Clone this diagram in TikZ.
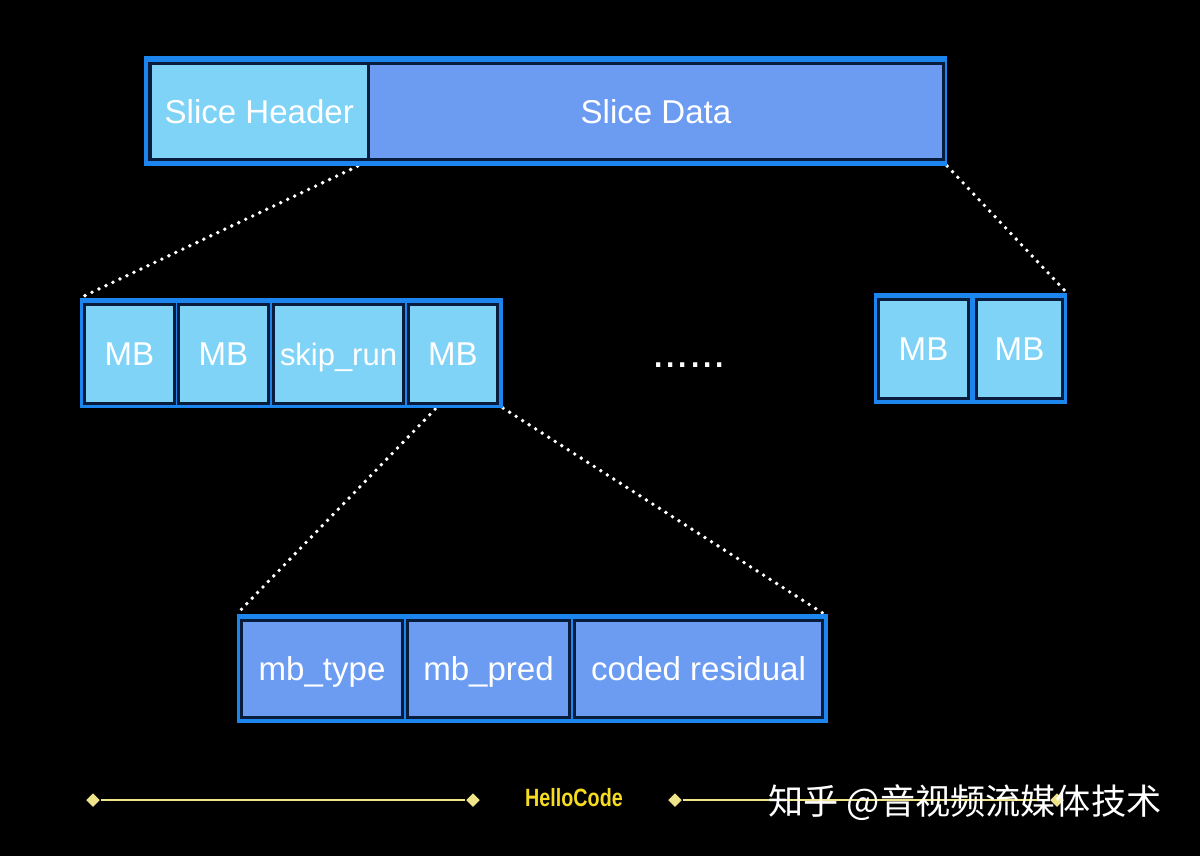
\documentclass[tikz,border=0pt]{standalone}
\usepackage{fontspec}
\usepackage{graphicx}
\setmainfont{Liberation Sans}
\newfontfamily\cjk{Noto Sans CJK SC}
\usetikzlibrary{shapes.geometric,calc}
\definecolor{frameblue}{HTML}{1C86EE}
\definecolor{lightcell}{HTML}{7FD3F6}
\definecolor{datacell}{HTML}{6C9CF2}
\definecolor{navy}{HTML}{0A1C3C}
\definecolor{lineyellow}{HTML}{F0E48A}
\definecolor{textyellow}{HTML}{F5DC20}
\pgfdeclarelayer{bglayer}
\pgfdeclarelayer{linelayer}
\pgfsetlayers{bglayer,linelayer,main}
\newcommand{\pxbox}[7]{\node[#2, minimum width={(#5-#3)*0.2845pt}, minimum height={(#6-#4)*0.2845pt}] (#1) at ({(#3+#5)/2},{(#4+#6)/2}) {#7};}
\begin{document}
\begin{tikzpicture}[x=0.01cm,y=-0.01cm,
  frame/.style={fill=frameblue, draw=none, inner sep=0pt, outer sep=0pt},
  cellbase/.style={draw=navy, line width=1pt, inner sep=0pt, outer sep=0pt, text=white,
    font=\fontsize{9.4}{11}\selectfont, text height=6.7pt, text depth=0pt},
  hcell/.style={cellbase, fill=lightcell},
  dcell/.style={cellbase, fill=datacell},
  dotline/.style={white, line width=1.1pt, line cap=round, dash pattern=on 0pt off 2.2pt},
  tipmark/.style={diamond, fill=lineyellow, draw=none, inner sep=0pt, minimum width=4pt, minimum height=4pt},
  rulerline/.style={lineyellow, line width=0.8pt}]
\begin{pgfonlayer}{bglayer}
\fill[black] (0,0) rectangle (1200,856);
\end{pgfonlayer}
\useasboundingbox (0,0) rectangle (1200,856);

% top slice
\pxbox{topframe}{frame}{144}{56}{947}{166}{}
\pxbox{sh}{hcell}{150}{63.5}{368.5}{159.5}{Slice Header}
\pxbox{sd}{dcell}{368.5}{63.5}{943.5}{159.5}{Slice Data}

% macroblock row
\pxbox{mbframe}{frame}{80}{298}{503}{408}{}
\pxbox{mba}{hcell}{84.5}{304.5}{174.5}{403.5}{MB}
\pxbox{mbb}{hcell}{178.5}{304.5}{268.5}{403.5}{MB}
\pxbox{skip}{hcell, font=\fontsize{8.8}{10}\selectfont}{273.5}{304.5}{403.5}{403.5}{skip\_run}
\pxbox{mbd}{hcell}{408.5}{304.5}{497.5}{403.5}{MB}

\node[text=white, font=\fontsize{12.6}{14}\selectfont, inner sep=0pt] (dots) at (689,365) {......};

\pxbox{rframe}{frame}{874}{293}{1067}{404}{}
\pxbox{ra}{hcell}{878.5}{299.5}{968.5}{398.5}{MB}
\pxbox{rb}{hcell}{976.5}{299.5}{1062.5}{398.5}{MB}

% macroblock content
\pxbox{botframe}{frame}{237}{614}{828}{723}{}
\pxbox{mbtype}{dcell}{241.5}{620.5}{402.5}{717.5}{mb\_type}
\pxbox{mbpred}{dcell}{407.5}{620.5}{569.5}{717.5}{mb\_pred}
\pxbox{coded}{dcell}{574.5}{620.5}{822.5}{717.5}{coded residual}

% dotted connectors (behind the frames)
\begin{pgfonlayer}{linelayer}
\draw[dotline] ($(sh.south east)+(3,0)$) -- ($(mbframe.north west)+(0,0)$);
\draw[dotline] (topframe.south east) -- (rframe.north east);
\draw[dotline] ($(mbd.south west)!0.36!(mbd.south east)$) -- (botframe.north west);
\draw[dotline] (mbframe.south east) -- ($(botframe.north east)+(-4,0)$);
\end{pgfonlayer}

% footer
\node[tipmark] (d1) at (93,800) {};
\node[tipmark] (d2) at (473,800) {};
\node[tipmark] (d3) at (675,800) {};
\node[tipmark] (d4) at (1057,800) {};
\draw[rulerline] (d1) -- (d2);
\draw[rulerline] (d3) -- (d4);
\node[text=textyellow, inner sep=0pt, font=\fontsize{7.1}{8}\selectfont\bfseries] (hello) at (574,798) {\scalebox{0.79}[1]{HelloCode}};
\node[text=white, inner sep=0pt, font=\cjk\fontsize{10}{12}\selectfont] (mark) at (965,803) {知乎 @音视频流媒体技术};
\end{tikzpicture}
\end{document}
